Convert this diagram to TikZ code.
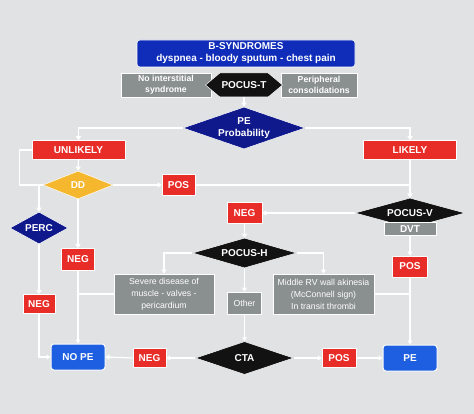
\documentclass[tikz,border=0pt]{standalone}
\usepackage{fontspec}
\setmainfont{Liberation Sans}
\usetikzlibrary{shapes.geometric,shapes.symbols,arrows.meta}

\definecolor{bgcol}{RGB}{224,226,227}
\definecolor{synblue}{RGB}{15,45,185}
\definecolor{navy}{RGB}{15,25,140}
\definecolor{alertred}{RGB}{232,45,40}
\definecolor{ddyellow}{RGB}{245,183,45}
\definecolor{boxgray}{RGB}{138,143,143}
\definecolor{pocusblack}{RGB}{18,18,18}
\definecolor{peblue}{RGB}{30,95,225}

\begin{document}
\begin{tikzpicture}[x=1pt,y=-1pt,
	every node/.style={text=white,font=\bfseries\fontsize{10}{12}\selectfont,inner sep=0pt,align=center},
	redbox/.style={fill=alertred,draw=white,line width=0.6pt},
	graybox/.style={fill=boxgray,draw=white,line width=0.8pt},
	thinfont/.style={font=\fontsize{8.7}{12}\selectfont},
	endbox/.style={fill=peblue,draw=white,line width=1pt,rounded corners=3pt,minimum width=54pt,minimum height=26pt},
	decision/.style={diamond,draw=white,line width=0.5pt},
	flow/.style={draw=white,line width=1.2pt},
	arr/.style={flow,-{Triangle[length=4pt,width=5pt]}}]
	
	\fill[bgcol] (0,0) rectangle (474,414);
	\useasboundingbox (0,0) rectangle (474,414);
	
	% top
	\node[fill=synblue,draw=white,line width=0.6pt,rounded corners=3pt,minimum width=218pt,minimum height=27pt] (bsyn) at (246,53.5) {B-SYNDROMES\\dyspnea - bloody sputum - chest pain};
	\node[graybox,font=\bfseries\fontsize{8.7}{11.5}\selectfont,minimum width=90pt,minimum height=24pt] (nointer) at (166,85) {No interstitial\\syndrome};
	\node[graybox,font=\bfseries\fontsize{8.7}{11.5}\selectfont,minimum width=76pt,minimum height=24pt] (periph) at (319,85) {Peripheral\\consolidations};
	\node[signal,signal to=east and west,signal pointer angle=80,fill=pocusblack,draw=white,line width=0.5pt,minimum width=77pt,minimum height=24pt] (pocust) at (244,85) {POCUS-T};
	
	\node[decision,fill=navy,shape aspect=2.9,minimum width=122pt,minimum height=42pt] (peprob) at (244,128) {PE\\Probability};
	
	\node[redbox,minimum width=93pt,minimum height=19pt] (unlikely) at (78.5,150) {UNLIKELY};
	\node[redbox,minimum width=93pt,minimum height=19pt] (likely) at (410,150) {LIKELY};
	
	% left branch
	\node[decision,fill=ddyellow,shape aspect=2.5,minimum width=70pt,minimum height=28pt] (dd) at (78,185) {DD};
	\node[redbox,minimum width=33pt,minimum height=21pt] (pos1) at (178.5,185) {POS};
	\node[decision,fill=navy,shape aspect=1.8,minimum width=58pt,minimum height=32pt] (perc) at (39,228) {PERC};
	\node[redbox,minimum width=33pt,minimum height=22pt] (neg1) at (78,259.5) {NEG};
	\node[redbox,minimum width=32pt,minimum height=19pt] (neg3) at (39,304) {NEG};
	\node[endbox] (nope) at (78,357) {NO PE};
	
	% right branch
	\node[decision,fill=pocusblack,shape aspect=3.6,minimum width=110pt,minimum height=30pt] (pocusv) at (410,213) {POCUS-V};
	\node[graybox,line width=0.6pt,minimum width=52pt,minimum height=13pt] (dvt) at (410,229) {DVT};
	\node[redbox,minimum width=35pt,minimum height=21pt] (neg2) at (244.5,213) {NEG};
	\node[redbox,minimum width=35pt,minimum height=21pt] (pos2) at (410,266.5) {POS};
	
	\node[decision,fill=pocusblack,shape aspect=3.5,minimum width=104pt,minimum height=30pt] (pocush) at (244.5,253) {POCUS-H};
	\node[graybox,thinfont,minimum width=100pt,minimum height=40pt] (severe) at (164,294) {Severe disease of\\muscle - valves -\\pericardium};
	\node[graybox,thinfont,minimum width=34pt,minimum height=22pt] (other) at (244.5,303) {Other};
	\node[graybox,thinfont,minimum width=101pt,minimum height=40pt] (middle) at (323.5,294) {Middle RV wall akinesia\\(McConnell sign)\\In transit thrombi};
	
	\node[decision,fill=pocusblack,shape aspect=3,minimum width=98pt,minimum height=33pt] (cta) at (244.5,358) {CTA};
	\node[redbox,minimum width=33pt,minimum height=19pt] (neg4) at (149.5,358) {NEG};
	\node[redbox,minimum width=34pt,minimum height=19pt] (pos3) at (339,358) {POS};
	\node[endbox] (pe) at (410,358) {PE};
	
	\coordinate (jperc) at (perc.north |- dd.west);
	
	% connectors
	\draw[arr] (pocust.south) -- (peprob.north);
	\draw[arr] (peprob.west) -| (unlikely.north);
	\draw[arr] (peprob.east) -| (likely.north);
	
	\draw[arr] (unlikely.south) -- (dd.north);
	\draw[flow] (unlikely.west) -- ++(-12,0) |- (dd.west);
	\draw[arr] (jperc) -- (perc.north);
	\draw[arr] (dd.east) -- (pos1.west);
	\draw[arr] (pos1.east) -| (pocusv.north);
	\draw[arr] (likely.south) -- (pocusv.north);
	
	\draw[arr] (dd.south) -- (neg1.north);
	\draw[arr] (neg1.south) -- (nope.north);
	\draw[arr] (perc.south) -- (neg3.north);
	\draw[arr] (neg3.south) |- (nope.west);
	\draw[flow] (severe.west) -- (nope.north |- severe.west);
	
	\draw[arr] (pocusv.west) -- (neg2.east);
	\draw[arr] (neg2.south) -- (pocush.north);
	\draw[arr] (pocush.west) -| (severe.north);
	\draw[arr] (pocush.east) -| (middle.north);
	\draw[arr] (pocush.south) -- (other.north);
	\draw[arr] (other.south) -- (cta.north);
	
	\draw[arr] (dvt.south) -- (pos2.north);
	\draw[arr] (pos2.south) -- (pe.north);
	\draw[flow] (middle.east) -- (pe.north |- middle.east);
	
	\draw[arr] (cta.west) -- (neg4.east);
	\draw[arr] (neg4.west) -- (nope.east);
	\draw[arr] (cta.east) -- (pos3.west);
	\draw[arr] (pos3.east) -- (pe.west);
	
\end{tikzpicture}
\end{document}
